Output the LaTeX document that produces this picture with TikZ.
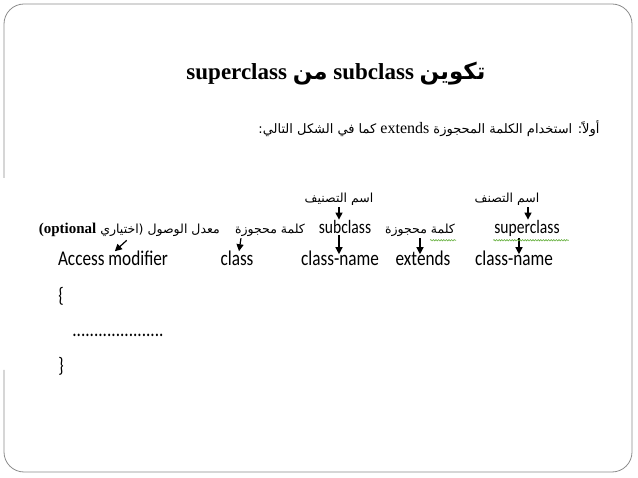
\documentclass[tikz,border=0pt]{standalone}
\usepackage{fontspec}
\setmainfont{Liberation Serif}
\newfontfamily\codefont[FakeStretch=0.82]{Carlito}
\newfontfamily\arabicfont[Script=Arabic]{DejaVu Sans}
\TeXXeTstate=1
\usetikzlibrary{arrows.meta,decorations.pathmorphing}
\definecolor{framegray}{RGB}{140,140,140}
\definecolor{spellgreen}{RGB}{100,175,60}
\tikzstyle{code word}=[
    font = \codefont\fontsize{21}{21}\selectfont,
    anchor = base,
    inner sep = 1pt
]
\tikzstyle{code small}=[
    font = \codefont\fontsize{19}{19}\selectfont,
    anchor = base,
    inner sep = 1pt
]
\tikzstyle{arabic label}=[
    font = \arabicfont\fontsize{12.5}{12.5}\selectfont,
    anchor = base,
    inner sep = 1pt
]

\begin{document}
\begin{tikzpicture}[x=1pt, y=-1pt,
    down/.style = {-{Triangle[length=7pt,width=7pt]}, line width=1.2pt},
    wavy/.style = {spellgreen, line width=0.6pt, decorate,
                   decoration={snake, amplitude=0.7pt, segment length=2.6pt}}]
        \useasboundingbox (0,0) rectangle (638,478);
        \draw[framegray, line width=0.8pt, rounded corners=20pt]
            (4,178) -- (4,4) -- (632,4) -- (632,472) -- (4,472) -- (4,370);

        \node[anchor=base, font=\bfseries\fontsize{23}{23}\selectfont] (title) at (336,80)
            {\beginR{\arabicfont تكوين} \beginL subclass\endL{} {\arabicfont من} \beginL superclass\endL\endR};
        \node[anchor=base east, font=\arabicfont\fontsize{13}{13}\selectfont] (intro) at (603,134)
            {\beginR أولاً: استخدام الكلمة المحجوزة \beginL{\rmfamily\fontsize{16}{16}\selectfont extends}\endL{} كما في الشكل التالي:\endR};

        \node[arabic label] (subname) at (339,203) {\beginR اسم التصنيف\endR};
        \node[arabic label] (supname) at (507,203) {\beginR اسم التصنف\endR};

        \node[arabic label, anchor=base east] (access) at (221,234)
            {\beginR معدل الوصول (اختياري \beginL{\rmfamily\bfseries\fontsize{15}{15}\selectfont(optional}\endL\endR};
        \node[arabic label] (classkw) at (270,234) {\beginR كلمة محجوزة\endR};
        \node[code small] (subclass) at (345,234) {subclass};
        \node[arabic label] (extkw) at (420,234) {\beginR كلمة محجوزة\endR};
        \node[code small] (super) at (527,234) {superclass};

        \node[code word] (accessmod) at (113,266) {Access modifier};
        \node[code word] (class) at (237,266) {class};
        \node[code word] (subcode) at (340,266) {class-name};
        \node[code word] (extends) at (423,266) {extends};
        \node[code word] (supcode) at (514,266) {class-name};

        \node[code word] (open) at (61,303) {\{};
        \node[code word] (body) at (118,337) {.....................};
        \node[code word] (close) at (61,373) {\}};

        \draw[down] (subname.south) -- (subname.south |- subclass.north);
        \draw[down] ([xshift=21pt]supname.south) -- ([xshift=21pt]supname.south |- super.north);
        \draw[down] ([xshift=89pt,yshift=-2pt]access.south west) -- ([xshift=58pt,yshift=-1pt]accessmod.north west);
        \draw[down] ([xshift=-29pt]classkw.south) -- ([xshift=2pt,yshift=-1pt]class.north);
        \draw[down] ([xshift=-6pt]subclass.south) -- ([xshift=-6pt,yshift=-4pt]subclass.south |- subcode.north);
        \draw[down] (extkw.south) -- ([yshift=-4pt]extkw.south |- extends.north);
        \draw[down] ([xshift=-8pt]super.south) -- ([xshift=-8pt,yshift=-4pt]super.south |- supcode.north);

        \draw[wavy] ([xshift=10pt,yshift=-2pt]extkw.south) -- ([yshift=-2pt]extkw.south east);
        \draw[wavy] ([yshift=-2pt]super.south west) -- ([xshift=8pt,yshift=-2pt]super.south east);

    \end{tikzpicture}
\end{document}
